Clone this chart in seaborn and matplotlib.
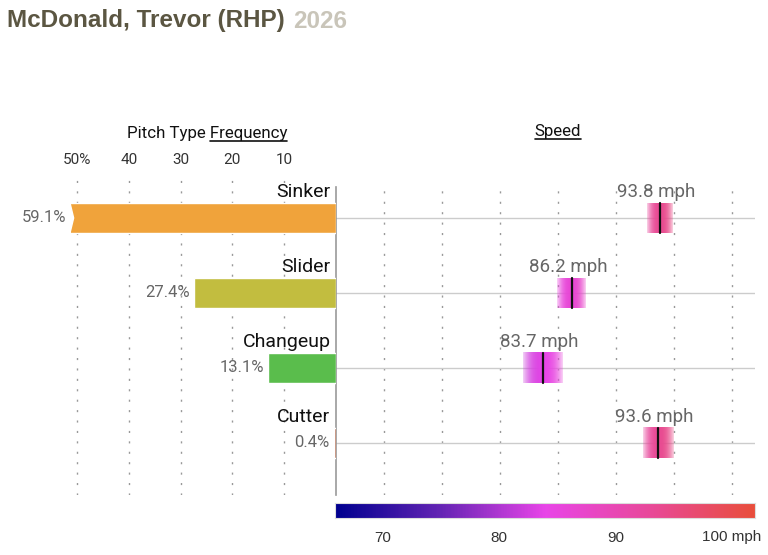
import numpy as np
import pandas as pd
import matplotlib
matplotlib.use('Agg')
import matplotlib.pyplot as plt
from matplotlib.colors import LinearSegmentedColormap, Normalize
from matplotlib.lines import Line2D
import seaborn as sns

# ── Data ─────────────────────────────────────────────────────────
pitches      = ['Sinker', 'Slider', 'Changeup', 'Cutter']
freq_pct     = [59.1, 27.4, 13.1, 0.4]
speed_mph    = [93.8, 86.2, 83.7, 93.6]
speed_spread = [1.1, 1.25, 1.7, 1.3]
bar_colors   = ['#f0a33b', '#c2bd3f', '#5abd4c', '#a85a3a']
freq_ticks   = [10, 20, 30, 40, 50]
freq_labels  = ['10', '20', '30', '40', '50%']
speed_grid   = [70, 75, 80, 85, 90, 95, 100]
cbar_ticks   = [70, 80, 90, 100]
cbar_labels  = ['70', '80', '90', '100 mph']

FREQ_LIM  = (51.35, 0)
SPEED_LIM = (65.86, 102)

df = pd.DataFrame({'pitch': pitches, 'freq': freq_pct,
                   'speed': speed_mph, 'spread': speed_spread})
palette = dict(zip(pitches, bar_colors))

cmap = LinearSegmentedColormap.from_list('speed', [
    (0.0,  '#00008f'),
    (0.25, '#6424b4'),
    (0.50, '#e845e8'),
    (0.75, '#e8499a'),
    (1.0,  '#e94e3c')])
norm = Normalize(*SPEED_LIM)

sns.set_theme(style='white')
plt.rcParams['font.family'] = ['Roboto', 'DejaVu Sans']

W, H = 768, 555
fig = plt.figure(figsize=(W / 100, H / 100), dpi=100)
fig.patch.set_facecolor('white')

def fx(px):
    return px / W

def fy(py):
    return 1 - py / H

ROW = 75.0
ax_r = fig.add_axes([fx(336), fy(495), fx(755) - fx(336), fy(187) - fy(495)])
ax_l = fig.add_axes([fx(70), fy(495), fx(336) - fx(70), fy(173) - fy(495)])
ax_c = fig.add_axes([fx(335), fy(518), fx(755) - fx(335), fy(503) - fy(518)])
ax_l.set_facecolor('none')

# ── Left : frequency bars ────────────────────────────────────────
sns.barplot(data=df, x='freq', y='pitch', hue='pitch', palette=palette,
            order=pitches, orient='h', width=0.4, legend=False,
            saturation=1, ax=ax_l)
ax_l.set_xlim(*FREQ_LIM)
ax_l.set_ylim(3 + (495 - 443) / ROW, -(218 - 173) / ROW)
for x in freq_ticks:
    ax_l.axvline(x, color='#999999', lw=1, ls=(0, (1.5, 6)), zorder=0)
ax_l.xaxis.tick_top()
ax_l.set_xticks(freq_ticks, freq_labels)
ax_l.tick_params(axis='x', length=0, pad=4, labelsize=11, labelcolor='#333333')
ax_l.set_yticks([])
ax_l.set_xlabel('')
ax_l.set_ylabel('')
for s in ax_l.spines.values():
    s.set_visible(False)

for i, (p, v) in enumerate(zip(pitches, freq_pct)):
    xv = min(v, FREQ_LIM[0])
    ax_l.annotate(f'{v}%', (xv, i), xytext=(-3, 0), textcoords='offset points',
                  ha='right', va='center', fontsize=12, color='#666666',
                  annotation_clip=False)
    ax_l.annotate(p, (0, i - 0.28), xytext=(-4, 0), textcoords='offset points',
                  ha='right', va='baseline', fontsize=14, color='#111111',
                  annotation_clip=False)
    if v > FREQ_LIM[0]:
        # notch showing the bar is cut off
        x0 = FREQ_LIM[0]
        notch = plt.Polygon([(x0, i - 0.2), (x0 - 0.7, i), (x0, i + 0.2),
                             (x0 + 0.05, i + 0.2), (x0 + 0.05, i - 0.2)],
                            closed=True, color='white', zorder=5,
                            transform=ax_l.transData)
        ax_l.add_patch(notch)

# ── Right : speed ────────────────────────────────────────────────
for x in speed_grid:
    ax_r.axvline(x, color='#999999', lw=1, ls=(0, (1.5, 6)), zorder=0)
for i in range(len(pitches)):
    ax_r.axhline(i, color='#cccccc', lw=1, zorder=0)

for i, (m, s) in enumerate(zip(speed_mph, speed_spread)):
    xs = np.linspace(m - s, m + s, 80)
    t = np.abs(xs - m) / s
    rgba = cmap(norm(xs))
    rgba[:, 3] = np.clip(1.0 - 0.75 * t ** 2.5, 0, 1)
    ax_r.imshow(rgba[np.newaxis, :, :], extent=(m - s, m + s, i + 0.2, i - 0.2),
                aspect='auto', interpolation='bilinear', zorder=2)
    ax_r.plot([m, m], [i - 0.2, i + 0.2], color='#111111', lw=1.6, zorder=3)
    ax_r.text(m - 0.3, i - 0.28, f'{m} mph', ha='center', va='baseline',
              fontsize=13.5, color='#666666')

ax_r.set_xlim(*SPEED_LIM)
ax_r.set_ylim(3 + (495 - 443) / ROW, -(218 - 187) / ROW)
ax_r.set_xticks([])
ax_r.set_yticks([])
for k, s in ax_r.spines.items():
    s.set_visible(k == 'left')
ax_r.spines['left'].set_color('#999999')
ax_r.spines['left'].set_linewidth(1.2)

# ── Colour bar ───────────────────────────────────────────────────
grad = np.linspace(*SPEED_LIM, 400)
ax_c.imshow(grad[np.newaxis, :], cmap=cmap, norm=norm, aspect='auto',
            extent=(SPEED_LIM[0], SPEED_LIM[1], 0, 1))
ax_c.set_xlim(*SPEED_LIM)
ax_c.set_yticks([])
ax_c.set_xticks(cbar_ticks, cbar_labels)
ax_c.tick_params(axis='x', length=0, pad=9, labelsize=11, labelcolor='#333333')
for lab in ax_c.get_xticklabels():
    lab.set_fontfamily(['Liberation Sans', 'DejaVu Sans'])
for s in ax_c.spines.values():
    s.set_color('#dddddd')
    s.set_linewidth(0.8)

# ── Titles / headers ─────────────────────────────────────────────
title = fig.text(fx(7), fy(21), 'McDonald, Trevor (RHP)', ha='left', va='center',
                 fontsize=17.5, fontweight='bold', color='#5b5642',
                 family=['Liberation Sans', 'DejaVu Sans'])
hdr_f = fig.text(fx(207), fy(138), 'Pitch Type Frequency', ha='center',
                 va='baseline', fontsize=12.2, color='#111111')
hdr_s = fig.text(fx(558), fy(136), 'Speed', ha='center', va='baseline',
                 fontsize=12.2, color='#111111')

fig.canvas.draw()
rend = fig.canvas.get_renderer()
tb = title.get_window_extent(rend)
fig.text((tb.x1 + 8) / W, fy(21), '2026', ha='left', va='center', fontsize=17.5,
         fontweight='bold', color='#c9c5b9',
         family=['Liberation Sans', 'DejaVu Sans'])

def underline(txt, part):
    bb = txt.get_window_extent(rend)
    tmp = fig.text(0, 0, part, fontsize=txt.get_fontsize(),
                   family=txt.get_fontfamily())
    w = tmp.get_window_extent(rend).width
    tmp.remove()
    yb = txt.get_position()[1] * H - 3
    fig.add_artist(Line2D([(bb.x1 - w) / W, bb.x1 / W], [yb / H, yb / H],
                          color='#111111', lw=1.2))

underline(hdr_f, 'Frequency')
underline(hdr_s, 'Speed')

plt.savefig('out.png', dpi=100, facecolor='white')
plt.close()
